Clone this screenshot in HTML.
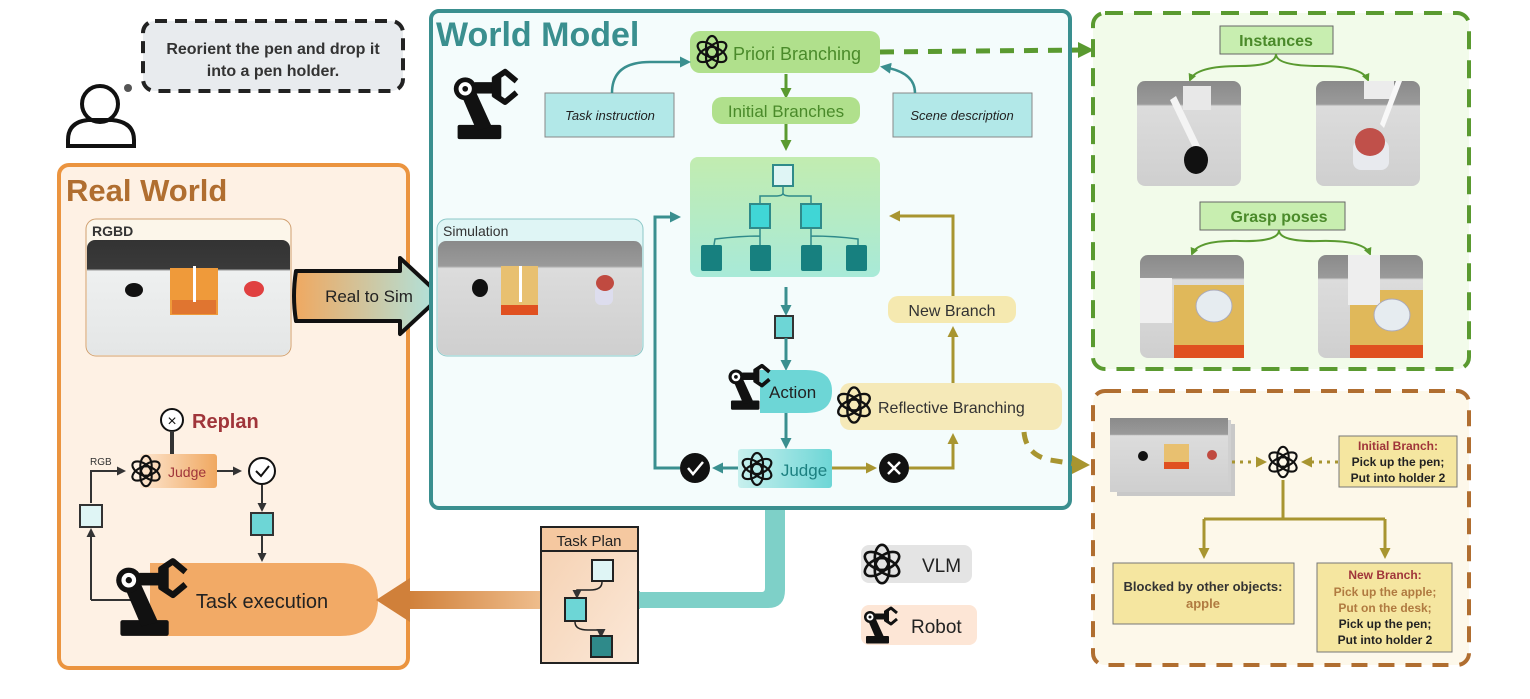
<!DOCTYPE html>
<html><head><meta charset="utf-8"><style>
html,body{margin:0;padding:0;background:#fff;width:1530px;height:699px;overflow:hidden}
svg{display:block}
text{font-family:"Liberation Sans",sans-serif}
</style></head><body>
<svg width="1530" height="699" viewBox="0 0 1530 699" xmlns="http://www.w3.org/2000/svg">
<defs>
  <g id="logo" fill="none" stroke="#111" stroke-width="2.2">
    <ellipse cx="0" cy="-5" rx="6" ry="11"/>
    <ellipse cx="0" cy="-5" rx="6" ry="11" transform="rotate(60)"/>
    <ellipse cx="0" cy="-5" rx="6" ry="11" transform="rotate(120)"/>
    <ellipse cx="0" cy="-5" rx="6" ry="11" transform="rotate(180)"/>
    <ellipse cx="0" cy="-5" rx="6" ry="11" transform="rotate(240)"/>
    <ellipse cx="0" cy="-5" rx="6" ry="11" transform="rotate(300)"/>
  </g>
  <g id="robot">
    <rect x="8" y="62" width="46" height="15" rx="2" fill="#111"/>
    <polygon points="10,26 24,20 44,64 28,68" fill="#111"/>
    <circle cx="16" cy="24" r="12" fill="#111"/>
    <circle cx="16" cy="24" r="7" fill="#fff"/>
    <circle cx="16" cy="24" r="3" fill="#111"/>
    <rect x="26" y="17" width="22" height="12" fill="#111"/>
    <path d="M46,14 L58,6 L70,16 M46,30 L58,38 L70,28" stroke="#111" stroke-width="6" fill="none" stroke-linejoin="round"/>
    <rect x="44" y="12" width="10" height="20" fill="#111"/>
  </g>
  <marker id="aT" markerUnits="userSpaceOnUse" markerWidth="11" markerHeight="11" refX="8" refY="5.5" orient="auto"><path d="M0,0 L11,5.5 L0,11z" fill="#3a8f8f"/></marker>
  <marker id="aG" markerUnits="userSpaceOnUse" markerWidth="11" markerHeight="11" refX="8" refY="5.5" orient="auto"><path d="M0,0 L11,5.5 L0,11z" fill="#5a9a30"/></marker>
  <marker id="aO" markerUnits="userSpaceOnUse" markerWidth="11" markerHeight="11" refX="8" refY="5.5" orient="auto"><path d="M0,0 L11,5.5 L0,11z" fill="#a89530"/></marker>
  <marker id="aK" markerUnits="userSpaceOnUse" markerWidth="9" markerHeight="9" refX="7" refY="4.5" orient="auto"><path d="M0,0 L9,4.5 L0,9z" fill="#333"/></marker>
  <marker id="aGB" markerUnits="userSpaceOnUse" markerWidth="8" markerHeight="8" refX="6" refY="4" orient="auto"><path d="M0,0 L8,4 L0,8z" fill="#5a9a30"/></marker>
  <marker id="aS" markerUnits="userSpaceOnUse" markerWidth="7" markerHeight="7" refX="5" refY="3.5" orient="auto"><path d="M0,0 L7,3.5 L0,7z" fill="#2f8a8a"/></marker>
  <linearGradient id="photo" x1="0" y1="0" x2="0" y2="1">
    <stop offset="0" stop-color="#8a8a8a"/><stop offset="0.22" stop-color="#9a9a9a"/><stop offset="0.24" stop-color="#dcdcdc"/><stop offset="1" stop-color="#cfcfcf"/>
  </linearGradient>
  <linearGradient id="photoR" x1="0" y1="0" x2="0" y2="1">
    <stop offset="0" stop-color="#333"/><stop offset="0.25" stop-color="#3a3a3a"/><stop offset="0.27" stop-color="#eef0f0"/><stop offset="1" stop-color="#e4e6e6"/>
  </linearGradient>
  <linearGradient id="tree" x1="0" y1="0" x2="0" y2="1"><stop offset="0" stop-color="#c2ecb0"/><stop offset="1" stop-color="#a8ead8"/></linearGradient>
  <linearGradient id="r2s" x1="0" y1="0" x2="1" y2="0"><stop offset="0" stop-color="#f0a860"/><stop offset="1" stop-color="#aee4e0"/></linearGradient>
  <linearGradient id="judge" x1="0" y1="0" x2="1" y2="0"><stop offset="0" stop-color="#c8f0ee"/><stop offset="1" stop-color="#6dd6d6"/></linearGradient>
  <linearGradient id="judgeO" x1="0" y1="0" x2="1" y2="0"><stop offset="0" stop-color="#fde6d0"/><stop offset="1" stop-color="#f0a860"/></linearGradient>
  <linearGradient id="bigArr" x1="0" y1="0" x2="1" y2="0"><stop offset="0" stop-color="#d0803a"/><stop offset="0.6" stop-color="#f0c090"/><stop offset="1" stop-color="#7ed0c8"/></linearGradient>
  <linearGradient id="tp" x1="0" y1="0" x2="1" y2="1"><stop offset="0" stop-color="#f5d0b0"/><stop offset="1" stop-color="#fbe8d8"/></linearGradient>
</defs>

<!-- user + bubble -->
<circle cx="100" cy="104" r="18" fill="none" stroke="#111" stroke-width="4"/>
<path d="M68,140 Q68,122 88,120 L112,120 Q134,122 134,140 L134,146 L68,146z" fill="none" stroke="#111" stroke-width="4"/>
<circle cx="128" cy="88" r="4" fill="#555"/>
<rect x="143" y="21" width="260" height="70" rx="12" fill="#e8ebee" stroke="#222" stroke-width="4" stroke-dasharray="12,8"/>
<text x="273" y="54" text-anchor="middle" font-size="16" font-weight="bold" fill="#333">Reorient the pen and drop it</text>
<text x="273" y="76" text-anchor="middle" font-size="16" font-weight="bold" fill="#333">into a pen holder.</text>

<!-- Real World -->
<rect x="59" y="165" width="349" height="503" rx="10" fill="#fef1e4" stroke="#eb943f" stroke-width="4"/>
<text x="66" y="201" font-size="31" font-weight="bold" fill="#b06e30">Real World</text>
<rect x="86" y="219" width="205" height="137" rx="10" fill="#fcf6ea" stroke="#d0a070" stroke-width="1"/>
<text x="92" y="236" font-size="14" font-weight="bold" fill="#333">RGBD</text>
<rect x="87" y="240" width="203" height="115" rx="8" fill="url(#photoR)"/>
<rect x="170" y="268" width="48" height="47" fill="#ef9a3a"/>
<rect x="172" y="300" width="44" height="14" fill="#e07530"/>
<rect x="193" y="266" width="3" height="36" fill="#fff"/>
<ellipse cx="134" cy="290" rx="9" ry="7" fill="#111"/>
<ellipse cx="254" cy="289" rx="10" ry="8" fill="#e04040"/>

<!-- Real to Sim arrow -->
<path d="M296,271 L400,271 L400,258 L441,296 L400,334 L400,321 L296,321 Q292,296 296,271z" fill="url(#r2s)" stroke="#111" stroke-width="4" stroke-linejoin="round"/>
<text x="369" y="302" text-anchor="middle" font-size="17" fill="#222">Real to Sim</text>

<!-- Replan -->
<circle cx="172" cy="420" r="11" fill="#fff" stroke="#111" stroke-width="2"/>
<text x="172" y="426" text-anchor="middle" font-size="16" fill="#111">×</text>
<text x="192" y="428" font-size="20" font-weight="bold" fill="#a0353a">Replan</text>
<line x1="172" y1="431" x2="172" y2="455" stroke="#333" stroke-width="4"/>
<rect x="140" y="454" width="77" height="34" rx="3" fill="url(#judgeO)"/>
<use href="#logo" transform="translate(146,471) scale(0.95)"/>
<text x="168" y="477" font-size="14" fill="#a0353a">Judge</text>
<text x="90" y="465" font-size="10" fill="#333">RGB</text>
<path d="M91,503 L91,471 L124,471" fill="none" stroke="#333" stroke-width="2" marker-end="url(#aK)"/>
<line x1="217" y1="471" x2="240" y2="471" stroke="#333" stroke-width="2" marker-end="url(#aK)"/>
<circle cx="262" cy="471" r="13" fill="#fff" stroke="#111" stroke-width="2"/>
<path d="M256,471 L261,476 L269,466" fill="none" stroke="#111" stroke-width="2"/>
<line x1="262" y1="485" x2="262" y2="510" stroke="#333" stroke-width="2" marker-end="url(#aK)"/>
<rect x="251" y="513" width="22" height="22" fill="#6dd6d6" stroke="#333" stroke-width="2"/>
<line x1="262" y1="536" x2="262" y2="560" stroke="#333" stroke-width="2" marker-end="url(#aK)"/>
<rect x="80" y="505" width="22" height="22" fill="#dff5f5" stroke="#333" stroke-width="2"/>
<path d="M91,600 L91,530" fill="none" stroke="#333" stroke-width="2" marker-end="url(#aK)"/>
<line x1="91" y1="600" x2="140" y2="600" stroke="#333" stroke-width="2"/>
<path d="M150,563 L340,563 Q378,563 378,600 Q378,636 340,636 L150,636z" fill="#f2aa66"/>
<text x="262" y="608" text-anchor="middle" font-size="20" fill="#222">Task execution</text>
<use href="#robot" transform="translate(112,555) scale(1.05)"/>

<!-- big arrow -->
<path d="M765,510 L785,510 L785,590 Q785,608 768,608 L640,608 L640,592 L762,592 Q765,592 765,588z" fill="#7ed0c8"/>
<rect x="408" y="591" width="232" height="18" fill="url(#bigArr)"/>
<polygon points="376,600 410,578 410,622" fill="#d0803a"/>

<!-- Task Plan -->
<rect x="541" y="527" width="97" height="136" fill="url(#tp)" stroke="#222" stroke-width="2"/>
<rect x="541" y="527" width="97" height="24" fill="#f5c8a0" stroke="#222" stroke-width="2"/>
<text x="589" y="546" text-anchor="middle" font-size="15" fill="#222">Task Plan</text>
<rect x="592" y="560" width="21" height="21" fill="#dff5f5" stroke="#222" stroke-width="2"/>
<path d="M602,582 Q602,590 590,590 L577,590 L577,597" fill="none" stroke="#222" stroke-width="1.5" marker-end="url(#aK)"/>
<rect x="565" y="598" width="21" height="23" fill="#6dd6d6" stroke="#222" stroke-width="2"/>
<path d="M575,622 Q575,630 588,630 L601,630 L601,636" fill="none" stroke="#222" stroke-width="1.5" marker-end="url(#aK)"/>
<rect x="591" y="636" width="21" height="21" fill="#2f8a8a" stroke="#222" stroke-width="2"/>

<!-- Legend -->
<rect x="861" y="545" width="111" height="38" rx="8" fill="#e4e4e4"/>
<use href="#logo" transform="translate(882,564) scale(1.2)"/>
<text x="922" y="572" font-size="19" fill="#222">VLM</text>
<rect x="861" y="605" width="116" height="40" rx="8" fill="#fde6d6"/>
<use href="#robot" transform="translate(862,605) scale(0.5)"/>
<text x="911" y="633" font-size="19" fill="#222">Robot</text>

<!-- World Model -->
<rect x="431" y="11" width="639" height="497" rx="8" fill="#f4fcfc" stroke="#3a8f8f" stroke-width="4"/>
<text x="436" y="46" font-size="34" font-weight="bold" fill="#3a8f8f">World Model</text>
<use href="#robot" transform="translate(450,66) scale(0.95)"/>
<rect x="690" y="31" width="190" height="42" rx="10" fill="#b0e08c"/>
<use href="#logo" transform="translate(712,52)"/>
<text x="733" y="60" font-size="18" fill="#4a8a2a">Priori Branching</text>
<path d="M880,52 L1082,50" stroke="#5a9a30" stroke-width="5" stroke-dasharray="14,10" fill="none"/>
<polygon points="1078,42 1094,50 1078,58" fill="#5a9a30"/>
<rect x="545" y="93" width="129" height="44" fill="#b2e8e8" stroke="#888" stroke-width="1"/>
<text x="610" y="120" text-anchor="middle" font-size="13" font-style="italic" fill="#222">Task instruction</text>
<rect x="893" y="93" width="139" height="44" fill="#b2e8e8" stroke="#888" stroke-width="1"/>
<text x="962" y="120" text-anchor="middle" font-size="13" font-style="italic" fill="#222">Scene description</text>
<path d="M612,93 Q612,62 650,62 L688,62" fill="none" stroke="#3a8f8f" stroke-width="2.5" marker-end="url(#aT)"/>
<path d="M915,93 Q915,72 883,67" fill="none" stroke="#3a8f8f" stroke-width="2.5" marker-end="url(#aT)"/>
<line x1="786" y1="74" x2="786" y2="96" stroke="#5a9a30" stroke-width="3" marker-end="url(#aG)"/>
<rect x="712" y="97" width="148" height="27" rx="10" fill="#b0e08c"/>
<text x="786" y="117" text-anchor="middle" font-size="17" fill="#4a8a2a">Initial Branches</text>
<line x1="786" y1="124" x2="786" y2="148" stroke="#5a9a30" stroke-width="3" marker-end="url(#aG)"/>
<rect x="690" y="157" width="190" height="120" rx="8" fill="url(#tree)"/>
<rect x="773" y="165" width="20" height="21" fill="#dff5f5" stroke="#2f8a8a" stroke-width="2"/>
<path d="M783,186 L783,193 Q783,196 775,196 L760,196 L760,203 M783,193 Q783,196 791,196 L811,196 L811,203" fill="none" stroke="#2f8a8a" stroke-width="1.5"/>
<rect x="750" y="204" width="20" height="24" fill="#40d6d6" stroke="#2f8a8a" stroke-width="2"/>
<rect x="801" y="204" width="20" height="24" fill="#40d6d6" stroke="#2f8a8a" stroke-width="2"/>
<path d="M760,228 L760,236 Q740,236 715,239 L714,245 M760,236 L760,245 M811,228 L811,245 M811,236 Q835,236 858,239 L858,245" fill="none" stroke="#2f8a8a" stroke-width="1.5"/>
<rect x="701" y="245" width="21" height="26" rx="2" fill="#17807f"/>
<rect x="750" y="245" width="21" height="26" rx="2" fill="#17807f"/>
<rect x="801" y="245" width="21" height="26" rx="2" fill="#17807f"/>
<rect x="846" y="245" width="21" height="26" rx="2" fill="#17807f"/>

<!-- Simulation -->
<rect x="437" y="219" width="206" height="137" rx="10" fill="#dff5f5" stroke="#8cc8c8" stroke-width="1"/>
<text x="443" y="236" font-size="14" fill="#333">Simulation</text>
<rect x="438" y="241" width="204" height="114" rx="8" fill="url(#photo)"/>
<rect x="501" y="266" width="37" height="48" fill="#e8c070"/>
<rect x="501" y="305" width="37" height="10" fill="#e05020"/>
<rect x="519" y="266" width="3" height="36" fill="#fff"/>
<ellipse cx="480" cy="288" rx="8" ry="9" fill="#111"/>
<rect x="595" y="285" width="18" height="20" rx="6" fill="#dde"/>
<ellipse cx="605" cy="283" rx="9" ry="8" fill="#c04a40"/>

<!-- loop lines -->
<line x1="786" y1="287" x2="786" y2="313" stroke="#3a8f8f" stroke-width="3" marker-end="url(#aT)"/>
<rect x="775" y="316" width="18" height="22" fill="#6dd6d6" stroke="#333" stroke-width="2"/>
<line x1="786" y1="338" x2="786" y2="368" stroke="#3a8f8f" stroke-width="3" marker-end="url(#aT)"/>
<path d="M760,370 L806,370 Q832,370 832,391 Q832,413 806,413 L760,413z" fill="#6dd6d6"/>
<use href="#robot" transform="translate(726,362) scale(0.62)"/>
<text x="769" y="398" font-size="17" fill="#222">Action</text>
<line x1="786" y1="413" x2="786" y2="446" stroke="#3a8f8f" stroke-width="3" marker-end="url(#aT)"/>
<rect x="738" y="449" width="94" height="39" rx="3" fill="url(#judge)"/>
<use href="#logo" transform="translate(757,469)"/>
<text x="804" y="476" text-anchor="middle" font-size="17" fill="#1c8080">Judge</text>
<line x1="738" y1="468" x2="715" y2="468" stroke="#3a8f8f" stroke-width="3" marker-end="url(#aT)"/>
<circle cx="695" cy="468" r="15" fill="#111"/>
<path d="M688,468 L693,474 L703,462" fill="none" stroke="#fff" stroke-width="2.5"/>
<path d="M680,468 L655,468 L655,217 L678,217" fill="none" stroke="#3a8f8f" stroke-width="3" marker-end="url(#aT)"/>
<line x1="832" y1="468" x2="874" y2="468" stroke="#a89530" stroke-width="3" marker-end="url(#aO)"/>
<circle cx="894" cy="468" r="15" fill="#111"/>
<path d="M888,462 L900,474 M900,462 L888,474" stroke="#fff" stroke-width="2.5"/>
<path d="M909,468 L953,468 L953,436" fill="none" stroke="#a89530" stroke-width="3" marker-end="url(#aO)"/>
<rect x="840" y="383" width="222" height="47" rx="10" fill="#f5e9b8"/>
<use href="#logo" transform="translate(854,405) scale(1.1)"/>
<text x="878" y="413" font-size="16" fill="#333">Reflective Branching</text>
<line x1="953" y1="383" x2="953" y2="329" stroke="#a89530" stroke-width="3" marker-end="url(#aO)"/>
<rect x="888" y="296" width="128" height="27" rx="10" fill="#f5e9b0"/>
<text x="952" y="316" text-anchor="middle" font-size="16" fill="#333">New Branch</text>
<path d="M953,296 L953,216 L892,216" fill="none" stroke="#a89530" stroke-width="3" marker-end="url(#aO)"/>
<path d="M1024,432 Q1026,455 1050,460 L1075,464" fill="none" stroke="#a89530" stroke-width="5" stroke-dasharray="12,9"/>
<polygon points="1072,455 1090,465 1072,474" fill="#a89530"/>

<!-- Green box -->
<rect x="1093" y="13" width="376" height="356" rx="12" fill="#f2fbea" stroke="#5a9a30" stroke-width="4" stroke-dasharray="18,11"/>
<rect x="1220" y="26" width="113" height="28" fill="#c8eeb0" stroke="#666" stroke-width="1"/>
<text x="1276" y="46" text-anchor="middle" font-size="16" font-weight="bold" fill="#4a8a2a">Instances</text>
<path d="M1276,54 Q1276,66 1240,66 Q1196,66 1190,80" fill="none" stroke="#5a9a30" stroke-width="2" marker-end="url(#aGB)"/>
<path d="M1276,54 Q1276,66 1320,66 Q1362,66 1368,80" fill="none" stroke="#5a9a30" stroke-width="2" marker-end="url(#aGB)"/>
<rect x="1137" y="81" width="104" height="105" rx="8" fill="url(#photo)"/>
<polygon points="1170,100 1176,96 1200,146 1194,150" fill="#f4f4f4"/>
<rect x="1183" y="86" width="28" height="24" fill="#e8e8e8"/>
<ellipse cx="1196" cy="160" rx="12" ry="14" fill="#111"/>
<rect x="1316" y="81" width="104" height="105" rx="8" fill="url(#photo)"/>
<rect x="1364" y="81" width="30" height="18" fill="#ececec"/>
<polygon points="1396,81 1402,81 1384,128 1380,124" fill="#f8f8f8"/>
<rect x="1353" y="140" width="36" height="30" rx="8" fill="#e8eaee"/>
<ellipse cx="1370" cy="142" rx="15" ry="14" fill="#c0504a"/>
<rect x="1200" y="202" width="145" height="28" fill="#c8eeb0" stroke="#666" stroke-width="1"/>
<text x="1279" y="222" text-anchor="middle" font-size="16" font-weight="bold" fill="#4a8a2a">Grasp poses</text>
<path d="M1279,230 Q1279,242 1240,241 Q1198,240 1192,254" fill="none" stroke="#5a9a30" stroke-width="2" marker-end="url(#aGB)"/>
<path d="M1279,230 Q1279,242 1320,241 Q1364,240 1370,254" fill="none" stroke="#5a9a30" stroke-width="2" marker-end="url(#aGB)"/>
<rect x="1140" y="255" width="104" height="103" rx="8" fill="url(#photo)"/>
<rect x="1174" y="285" width="70" height="73" fill="#e0b85a"/>
<rect x="1174" y="345" width="70" height="13" fill="#e05020"/>
<rect x="1140" y="278" width="32" height="45" fill="#f0f0f0"/>
<ellipse cx="1214" cy="306" rx="18" ry="16" fill="#e6ecf0" stroke="#aab" stroke-width="1"/>
<rect x="1318" y="255" width="105" height="103" rx="8" fill="url(#photo)"/>
<rect x="1350" y="290" width="73" height="68" fill="#e0b85a"/>
<rect x="1350" y="345" width="73" height="13" fill="#e05020"/>
<rect x="1348" y="255" width="32" height="50" fill="#eeeeee"/>
<ellipse cx="1392" cy="315" rx="18" ry="16" fill="#e6ecf0" stroke="#aab" stroke-width="1"/>

<!-- Brown box -->
<rect x="1093" y="391" width="376" height="274" rx="12" fill="#fdf8ea" stroke="#b06e30" stroke-width="4" stroke-dasharray="16,11"/>
<rect x="1117" y="424" width="118" height="72" fill="#c8c8c8"/>
<rect x="1113" y="420" width="118" height="72" fill="#d0d0d0"/>
<rect x="1110" y="418" width="118" height="74" fill="url(#photo)"/>
<rect x="1164" y="444" width="25" height="25" fill="#e8c070"/>
<rect x="1164" y="462" width="25" height="7" fill="#e05020"/>
<circle cx="1143" cy="456" r="5" fill="#111"/>
<circle cx="1212" cy="455" r="5" fill="#c04a40"/>
<line x1="1232" y1="462" x2="1264" y2="462" stroke="#a89530" stroke-width="3" stroke-dasharray="3,5" marker-end="url(#aO)"/>
<use href="#logo" transform="translate(1283,462) scale(0.95)"/>
<line x1="1338" y1="462" x2="1304" y2="462" stroke="#a89530" stroke-width="3" stroke-dasharray="3,5" marker-end="url(#aO)"/>
<rect x="1339" y="436" width="118" height="51" fill="#f5e6a0" stroke="#777" stroke-width="1"/>
<text x="1398" y="450" text-anchor="middle" font-size="12" font-weight="bold" fill="#a0353a">Initial Branch:</text>
<text x="1398" y="466" text-anchor="middle" font-size="12" font-weight="bold" fill="#222">Pick up the pen;</text>
<text x="1398" y="482" text-anchor="middle" font-size="12" font-weight="bold" fill="#222">Put into holder 2</text>
<path d="M1283,480 L1283,519 M1204,519 L1385,519" fill="none" stroke="#a89530" stroke-width="3"/>
<line x1="1204" y1="519" x2="1204" y2="556" stroke="#a89530" stroke-width="3" marker-end="url(#aO)"/>
<line x1="1385" y1="519" x2="1385" y2="556" stroke="#a89530" stroke-width="3" marker-end="url(#aO)"/>
<rect x="1113" y="563" width="181" height="61" fill="#f5e6a0" stroke="#777" stroke-width="1"/>
<text x="1203" y="591" text-anchor="middle" font-size="13" font-weight="bold" fill="#333">Blocked by other objects:</text>
<text x="1203" y="608" text-anchor="middle" font-size="13" font-weight="bold" fill="#b07a40">apple</text>
<rect x="1317" y="563" width="135" height="89" fill="#f5e6a0" stroke="#777" stroke-width="1"/>
<text x="1385" y="579" text-anchor="middle" font-size="12" font-weight="bold" fill="#a0353a">New Branch:</text>
<text x="1385" y="596" text-anchor="middle" font-size="12" font-weight="bold" fill="#b07a40">Pick up the apple;</text>
<text x="1385" y="612" text-anchor="middle" font-size="12" font-weight="bold" fill="#b07a40">Put on the desk;</text>
<text x="1385" y="628" text-anchor="middle" font-size="12" font-weight="bold" fill="#222">Pick up the pen;</text>
<text x="1385" y="644" text-anchor="middle" font-size="12" font-weight="bold" fill="#222">Put into holder 2</text>
</svg>
</body></html>
